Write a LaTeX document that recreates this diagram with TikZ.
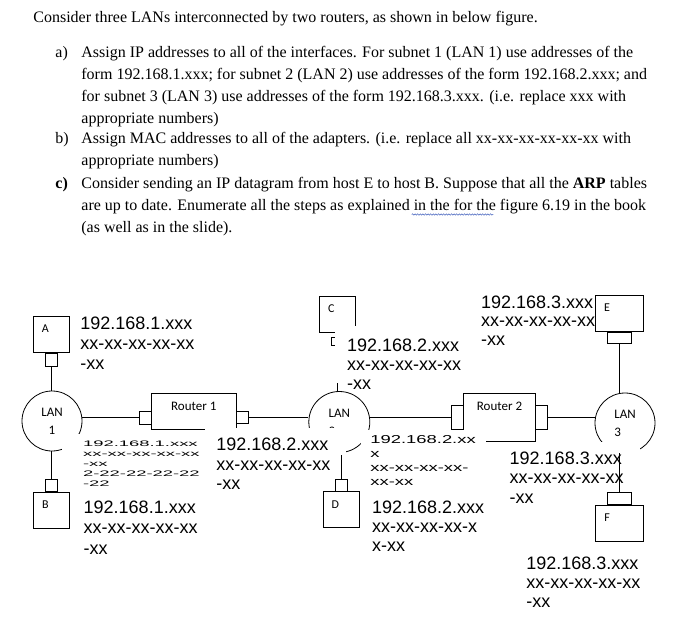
\documentclass[tikz,border=0pt]{standalone}
\usepackage{fontspec}
\setmainfont{Liberation Serif}
\newfontfamily\addrfont{Liberation Sans}
\newfontfamily\tinywide[FakeStretch=2.3]{Liberation Sans}
\newfontfamily\midwide[FakeStretch=1.6]{Liberation Sans}
\newfontfamily\carlito{Carlito}
\usetikzlibrary{positioning, decorations.pathmorphing}
\definecolor{spellblue}{RGB}{70,100,190}

\begin{document}
\begin{tikzpicture}[x=1pt, y=-1pt, line width=0.8pt]

    % styles (multi-line texts are placed by the baseline of their last line)
    \tikzset{
        qtext/.style={anchor=base west, align=left, inner sep=0pt, font=\fontsize{16}{22}\selectfont},
        host/.style={draw, fill=white, inner sep=0pt, minimum width=36pt, minimum height=36pt},
        hostlab/.style={anchor=center, xshift=12.5pt, yshift=-13pt, inner sep=0pt, font=\carlito\fontsize{12}{14}\selectfont},
        nic/.style={draw, fill=white, inner sep=0pt, minimum width=12pt, minimum height=12pt},
        router/.style={draw, fill=white, inner sep=0pt},
        rlab/.style={anchor=center, yshift=-13pt, inner sep=0pt, font=\carlito\fontsize{13}{15}\selectfont},
        lan/.style={draw, circle, inner sep=0pt, minimum size=60pt, font=\carlito\fontsize{13}{18}\selectfont},
        addr/.style={anchor=base west, align=left, inner sep=0pt, font=\addrfont\fontsize{18}{#1}\selectfont},
        addr/.default=19.5,
        hide/.style={fill=white},
        link/.style={draw},
        spell/.style={draw=spellblue, line width=0.5pt, decorate, decoration={snake, amplitude=0.7pt, segment length=2.6pt}}
    }
    \useasboundingbox (0,0) rectangle (698,636);

    % --- question text ---
    \node[qtext] (intro) at (33,22.3) {Consider three LANs interconnected by two routers, as shown in below figure.};
    \node[qtext] (qa) at (55,57.3) {a)};
    \node[qtext] (ta) at (81,123.3) {Assign IP addresses to all of the interfaces. For subnet 1 (LAN 1) use addresses of the\\
        form 192.168.1.xxx; for subnet 2 (LAN 2) use addresses of the form 192.168.2.xxx; and\\
        for subnet 3 (LAN 3) use addresses of the form 192.168.3.xxx. (i.e. replace xxx with\\
        appropriate numbers)};
    \node[qtext] (qb) at (55,144) {b)};
    \node[qtext] (tb) at (81,166) {Assign MAC addresses to all of the adapters. (i.e. replace all xx-xx-xx-xx-xx-xx with\\
        appropriate numbers)};
    \node[qtext] (qc) at (55,189) {\textbf{c)}};
    \node[qtext] (tc) at (81,233) {Consider sending an IP datagram from host E to host B. Suppose that all the \textbf{ARP} tables\\
        are up to date. Enumerate all the steps as explained in the for the figure 6.19 in the book\\
        (as well as in the slide).};
    \coordinate (wavyL) at (411.7,214.5);
    \coordinate (wavyR) at (493.3,214.5);
    \draw[spell] (wavyL) -- (wavyR);

    % --- LANs, routers, hosts ---
    \node[lan, align=center] (lan1) at (52,421) {LAN\\1};
    \node[lan, align=left, minimum size=61pt] (lan2) at (339.3,422) {LAN\\2};
    \node[lan, align=left] (lan3) at (625,423) {LAN\\3};

    \node[router, minimum width=84.3pt, minimum height=36pt, label={[rlab]north:Router 1}] (r1) at (193.8,411.3) {};
    \node[router, minimum width=72.4pt, minimum height=47.7pt, label={[rlab]north:Router 2}] (r2) at (499.5,417.2) {};
    \node[nic, minimum width=12.4pt, minimum height=13pt] (r1l) at (145.5,417.5) {};
    \node[nic, minimum width=12.3pt, minimum height=11.6pt] (r1r) at (242.2,417.5) {};
    \node[nic, minimum width=12.3pt, minimum height=24.3pt] (r2l) at (457.2,417.2) {};
    \node[nic, minimum width=11.6pt, minimum height=24.3pt] (r2r) at (541.5,417.2) {};

    \node[host, label={[hostlab]north west:A}] (A) at (51.3,334.3) {};
    \node[host, label={[hostlab]north west:B}] (B) at (51.3,510.3) {};
    \node[host, label={[hostlab]north west:C}] (C) at (337.2,314.2) {};
    \node[host, label={[hostlab]north west:D}] (D) at (341.3,509.8) {};
    \node[nic, below=0pt of A, minimum width=11.7pt, minimum height=13pt] (anic) {};
    \node[nic, above=0pt of B, minimum width=12.3pt, minimum height=12.3pt] (bnic) {};
    \node[nic, below=4.4pt of C, minimum width=12.3pt, minimum height=8.3pt] (cnic) {};
    \node[nic, above=0pt of D, minimum width=12.7pt, minimum height=11.7pt] (dnic) {};

    % links
    \draw[link] (anic.south) -- (anic.south |- lan1.north);
    \draw[link] (bnic.north) -- (bnic.north |- lan1.south);
    \draw[link] (r1l.west) -- (r1l.west -| lan1.east);
    \draw[link] (r1r.east) -- (r1r.east -| lan2.west);
    \draw[link] (cnic.south) -- (cnic.south |- lan2.north);
    \draw[link] (dnic.north) -- (dnic.north |- lan2.south);
    \draw[link] (r2l.west) -- (r2l.west -| lan2.east);
    \draw[link] (r2r.east) -- (r2r.east -| lan3.west);

    % text boxes hiding parts of the drawing
    \fill[hide] (62,434) rectangle (200,490);
    \fill[hide] (205,428) rectangle (346,455);
    \fill[hide] (361,430) rectangle (486,490);
    \fill[hide] (560,441.6) rectangle (640,490);
    \fill[hide] (335,326) rectangle (470,383);

    % --- addresses ---
    \node[addr=20] (txtA) at (80,369.7) {192.168.1.xxx\\xx-xx-xx-xx-xx\\-xx};
    \node[addr=20.8] (txtB) at (83.3,554.6) {192.168.1.xxx\\xx-xx-xx-xx-xx\\-xx};
    \node[addr, font=\tinywide\fontsize{8}{9.8}\selectfont] (txtR1l) at (82.7,486.1) {192.168.1.xxx\\xx-xx-xx-xx-xx\\-xx\\2-22-22-22-22\\-22};
    \node[addr] (txtR1r) at (216,489.5) {192.168.2.xxx\\xx-xx-xx-xx-xx\\-xx};
    \node[addr=19.2] (txtC) at (346.7,389.8) {192.168.2.xxx\\xx-xx-xx-xx-xx\\-xx};
    \node[addr, font=\midwide\fontsize{11.5}{13.8}\selectfont] (txtR2l) at (370,485.1) {192.168.2.xx\\x\\xx-xx-xx-xx-\\xx-xx};
    \node[addr=19.2] (txtD) at (371.7,551.4) {192.168.2.xxx\\xx-xx-xx-xx-x\\x-xx};
    \node[addr=18.3] (txtE) at (480.7,345) {192.168.3.xxx\\xx-xx-xx-xx-xx\\-xx};
    \node[addr=19.2] (txtR2r) at (509.3,503.1) {192.168.3.xxx\\xx-xx-xx-xx-xx\\-xx};
    \node[addr=19.2] (txtF) at (526,607.4) {192.168.3.xxx\\xx-xx-xx-xx-xx\\-xx};

    % hosts E and F lie over their texts
    \node[host, minimum width=48.3pt, label={[hostlab]north west:E}] (E) at (619.2,313.3) {};
    \node[host, minimum width=48.3pt, label={[hostlab]north west:F}] (F) at (619.2,523.3) {};
    \node[nic, below=0pt of E, minimum width=24.4pt, minimum height=11.6pt] (enic) {};
    \node[nic, above=0pt of F, minimum width=24.4pt, minimum height=12.3pt] (fnic) {};
    \draw[link] (enic.south) -- (enic.south |- lan3.north);
    \draw[link] (fnic.north) -- (fnic.north |- lan3.south);

\end{tikzpicture}
\end{document}
